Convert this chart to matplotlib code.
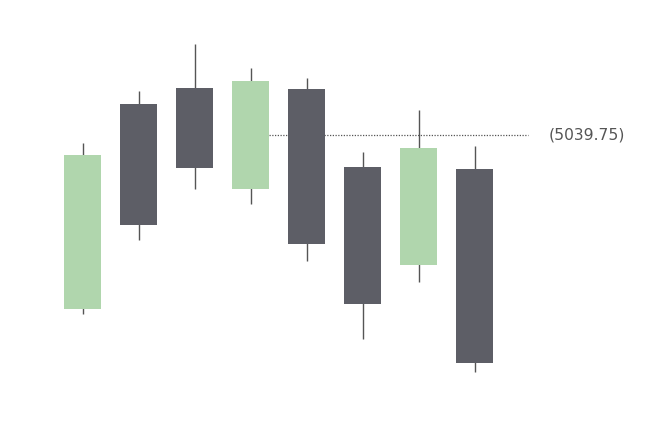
import matplotlib
matplotlib.use("Agg")
import matplotlib.pyplot as plt
from matplotlib.patches import Rectangle

opens  = [4996.25, 5047.50, 5051.50, 5026.25, 5051.25, 5031.75, 5007.25, 5031.25]
highs  = [5037.75, 5050.75, 5062.50, 5056.50, 5054.00, 5035.50, 5046.00, 5037.00]
lows   = [4995.00, 5013.50, 5026.25, 5022.50, 5008.25, 4988.75, 5003.00, 4980.50]
closes = [5034.75, 5017.25, 5031.50, 5053.25, 5012.50, 4997.50, 5036.50, 4982.75]
level = 5039.75
level_label = "(5039.75)"

UP = "#b0d6ad"
DOWN = "#5d5e66"
WICK = "#555555"

fig = plt.figure(figsize=(6.55, 4.30), dpi=100)
ax = fig.add_axes([0, 0, 1, 1])
ax.set_axis_off()

xmin = -82.5 / 56
ax.set_xlim(xmin, xmin + 655 / 56)
ax.set_ylim(4966.0, 5073.5)

w = 0.66
# level line (behind candles)
ax.plot([3 + w / 2, 7.955], [level, level], color="#555555", lw=0.9,
        linestyle=(0, (1, 1.2)), zorder=1)
ax.text(8.33, level, level_label, ha="left", va="center", fontsize=11.2,
        color="#555555", family="DejaVu Sans")

for i, (o, h, l, c) in enumerate(zip(opens, highs, lows, closes)):
    col = UP if c >= o else DOWN
    ax.plot([i, i], [l, h], color=WICK, lw=1.0, zorder=2, solid_capstyle="butt")
    lo, hi = min(o, c), max(o, c)
    ax.add_patch(Rectangle((i - w / 2, lo), w, hi - lo, facecolor=col,
                           edgecolor="none", zorder=3))

fig.savefig("out.png", dpi=100)
